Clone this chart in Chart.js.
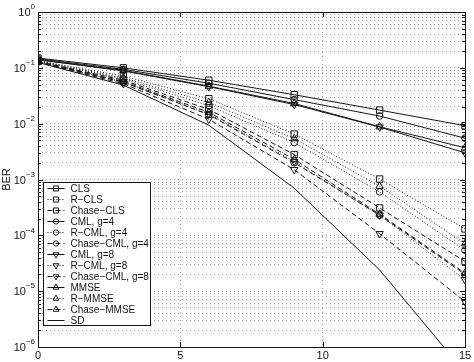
<!DOCTYPE html>
<html>
<head>
<meta charset="utf-8">
<script src="https://cdn.jsdelivr.net/npm/chart.js@4/dist/chart.umd.min.js"></script>
<style>
  html, body { margin: 0; padding: 0; background: #fff; }
  #wrap { position: relative; width: 474px; height: 362px; }
</style>
</head>
<body>
<div id="wrap"><canvas id="c"></canvas></div>
<script>
// SNR points (x axis) and tick labels
const snr = [0, 3, 6, 9, 12, 15];
const xTicks = [0, 5, 10, 15];
const yDecades = [-6, -5, -4, -3, -2, -1, 0];

// BER values
const cls        = [0.150, 0.100, 0.060, 0.033, 0.0175, 0.0092];
const rCls       = [0.135, 0.071, 0.028, 0.0065, 0.00102, 0.00013];
const chaseCls   = [0.130, 0.060, 0.018, 0.0028, 0.00031, 0.000034];
const cml4       = [0.145, 0.094, 0.053, 0.027, 0.0137, 0.0055];
const rCml4      = [0.132, 0.063, 0.021, 0.0046, 0.00060, 0.000054];
const chaseCml4  = [0.128, 0.055, 0.0145, 0.0020, 0.00023, 0.000020];
const cml8       = [0.140, 0.088, 0.046, 0.022, 0.0087, 0.0030];
const rCml8      = [0.128, 0.056, 0.015, 0.0021, 0.00023, 0.000016];
const chaseCml8  = [0.125, 0.052, 0.012, 0.0015, 0.000107, 0.0000065];
const mmse       = [0.140, 0.090, 0.047, 0.023, 0.0088, 0.0037];
const rMmse      = [0.133, 0.066, 0.024, 0.0054, 0.00076, 0.000071];
const chaseMmse  = [0.128, 0.057, 0.016, 0.0023, 0.00024, 0.000021];
const sd         = [0.125, 0.049, 0.0094, 0.00070, 0.000024, 0.00000035];

const seriesNames = [
  'CLS', 'R\u2212CLS', 'Chase\u2212CLS',
  'CML, g=4', 'R\u2212CML, g=4', 'Chase\u2212CML, g=4',
  'CML, g=8', 'R\u2212CML, g=8', 'Chase\u2212CML, g=8',
  'MMSE', 'R\u2212MMSE', 'Chase\u2212MMSE', 'SD'
];
const seriesValues = [
  cls, rCls, chaseCls,
  cml4, rCml4, chaseCml4,
  cml8, rCml8, chaseCml8,
  mmse, rMmse, chaseMmse, sd
];

// line style per variant, marker per detector
const DASH = { plain: [], r: [1, 2], chase: [5, 3] };
const variantOf = ['plain', 'r', 'chase', 'plain', 'r', 'chase', 'plain', 'r', 'chase', 'plain', 'r', 'chase', 'plain'];
const MARK = {
  sq:   { pointStyle: 'rect', radius: 4.5, rotation: 0 },
  circ: { pointStyle: 'circle', radius: 3.3, rotation: 0 },
  down: { pointStyle: 'triangle', radius: 4.3, rotation: 180 },
  up:   { pointStyle: 'triangle', radius: 4.3, rotation: 0 },
  none: { pointStyle: 'circle', radius: 0, rotation: 0 },
};
const markOf = ['sq', 'sq', 'sq', 'circ', 'circ', 'circ', 'down', 'down', 'down', 'up', 'up', 'up', 'none'];

const INK = '#151515';
const FONT = '"Liberation Sans", Arial, sans-serif';

const datasets = seriesNames.map((name, i) => {
  const m = MARK[markOf[i]];
  return {
    label: name,
    data: snr.map((x, j) => ({ x, y: seriesValues[i][j] })),
    borderColor: INK,
    borderWidth: 1,
    borderDash: DASH[variantOf[i]],
    pointStyle: m.pointStyle,
    pointRadius: m.radius,
    pointRotation: m.rotation,
    pointBorderColor: INK,
    pointBackgroundColor: 'rgba(0,0,0,0)',
    pointBorderWidth: 1,
    fill: false,
    tension: 0,
  };
});

// box, inward ticks and y labels in MATLAB style
const axesDecor = {
  id: 'axesDecor',
  afterDraw(chart) {
    const { ctx, chartArea: a, scales } = chart;
    const y = scales.y, x = scales.x;
    ctx.save();
    ctx.strokeStyle = INK;
    ctx.lineWidth = 1;
    ctx.setLineDash([]);
    ctx.strokeRect(Math.round(a.left) + 0.5, Math.round(a.top) + 0.5,
      Math.round(a.right - a.left), Math.round(a.bottom - a.top));
    ctx.beginPath();
    for (let k = -6; k <= 0; k++) {
      for (let m = 1; m <= 9; m++) {
        const v = m * Math.pow(10, k);
        if (v > 1) break;
        const py = Math.round(y.getPixelForValue(v)) + 0.5;
        const len = m === 1 ? 5 : 3;
        ctx.moveTo(a.left, py); ctx.lineTo(a.left + len, py);
        ctx.moveTo(a.right, py); ctx.lineTo(a.right - len, py);
      }
    }
    xTicks.forEach((t) => {
      const px = Math.round(x.getPixelForValue(t)) + 0.5;
      ctx.moveTo(px, a.bottom); ctx.lineTo(px, a.bottom - 5);
      ctx.moveTo(px, a.top); ctx.lineTo(px, a.top + 5);
    });
    ctx.stroke();

    ctx.fillStyle = INK;
    ctx.textBaseline = 'middle';
    yDecades.forEach((k) => {
      const py = y.getPixelForValue(Math.pow(10, k));
      const exp = String(k).replace('-', '\u2212');
      ctx.font = '8px ' + FONT;
      const ew = ctx.measureText(exp).width;
      ctx.textAlign = 'left';
      const ex = a.left - 3 - ew;
      ctx.fillText(exp, ex, py - 5);
      ctx.font = '11px ' + FONT;
      ctx.textAlign = 'right';
      ctx.fillText('10', ex, py + 1);
    });
    ctx.restore();
  }
};

// legend box inside the lower-left of the plot
const insideLegend = {
  id: 'insideLegend',
  afterDraw(chart) {
    const { ctx, chartArea: a } = chart;
    const rowH = 11;
    const n = chart.data.datasets.length;
    const left = Math.round(a.left) + 5.5;
    const bottom = Math.round(a.bottom) - 21.5;
    const height = n * rowH;
    const top = bottom - height;
    const width = 107;
    ctx.save();
    ctx.fillStyle = '#fff';
    ctx.fillRect(left, top, width, height);
    ctx.strokeStyle = INK;
    ctx.lineWidth = 1;
    ctx.setLineDash([]);
    ctx.strokeRect(left, top, width, height);
    ctx.font = '10px ' + FONT;
    ctx.textBaseline = 'middle';
    ctx.textAlign = 'left';
    chart.data.datasets.forEach((ds, i) => {
      const cy = Math.round(top + 5.5 + i * rowH) + 0.5;
      ctx.strokeStyle = INK;
      ctx.setLineDash(ds.borderDash || []);
      ctx.beginPath();
      ctx.moveTo(left + 4, cy);
      ctx.lineTo(left + 21, cy);
      ctx.stroke();
      ctx.setLineDash([]);
      if (ds.pointRadius > 0) {
        ctx.fillStyle = 'rgba(0,0,0,0)';
        Chart.helpers.drawPoint(ctx, {
          pointStyle: ds.pointStyle,
          rotation: ds.pointRotation,
          radius: ds.pointRadius * 0.8,
          borderWidth: 1,
        }, left + 12.5, cy);
      }
      ctx.fillStyle = INK;
      ctx.fillText(ds.label, left + 27, cy + 0.5);
    });
    ctx.restore();
  }
};

new Chart(document.getElementById('c'), {
  type: 'line',
  data: { datasets },
  options: {
    responsive: true,
    maintainAspectRatio: false,
    animation: false,
    layout: { padding: { top: 12, right: 9, left: 0, bottom: 0 } },
    plugins: { legend: { display: false }, tooltip: { enabled: false } },
    elements: { line: { borderJoinStyle: 'miter' } },
    scales: {
      x: {
        type: 'linear',
        min: 0,
        max: 15,
        afterBuildTicks: (s) => { s.ticks = xTicks.map((v) => ({ value: v })); },
        afterFit: (s) => { s.height = 15; },
        ticks: { color: INK, font: { family: FONT, size: 11 }, padding: 2, maxRotation: 0 },
        grid: { color: '#a8a8a8', lineWidth: 1, drawTicks: false },
        border: { display: false, dash: [1, 3] },
      },
      y: {
        type: 'logarithmic',
        min: 1e-6,
        max: 1,
        afterBuildTicks: (s) => {
          const t = [];
          for (let k = -6; k < 0; k++) for (let m = 1; m <= 9; m++) t.push({ value: m * Math.pow(10, k) });
          t.push({ value: 1 });
          s.ticks = t;
        },
        afterFit: (s) => { s.width = 38; },
        ticks: { display: false, autoSkip: false },
        title: { display: true, text: 'BER', color: INK, font: { family: FONT, size: 11 }, padding: { top: 0, bottom: 0 } },
        grid: { color: '#a8a8a8', lineWidth: 1, drawTicks: false },
        border: { display: false, dash: [1, 3] },
      },
    },
  },
  plugins: [axesDecor, insideLegend],
});
</script>
</body>
</html>
